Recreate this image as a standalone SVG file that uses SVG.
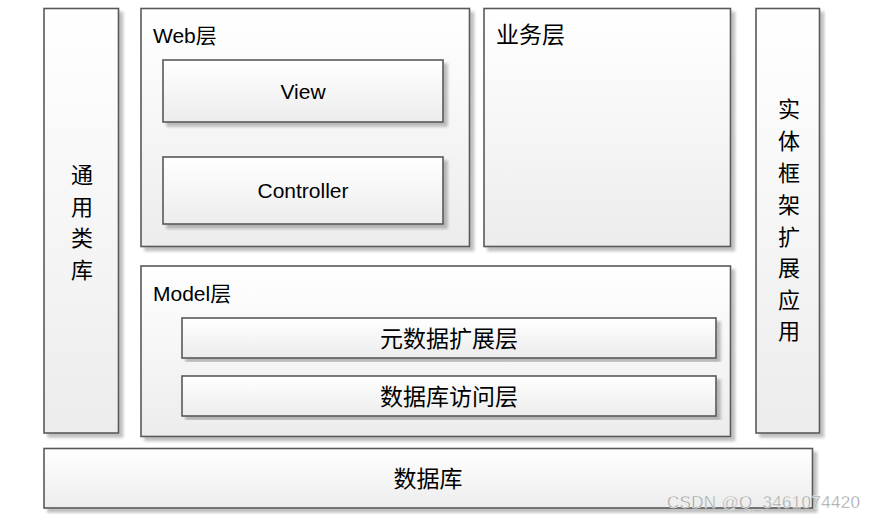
<svg xmlns="http://www.w3.org/2000/svg" width="877" height="521" viewBox="0 0 877 521">
<style>
.box{stroke:#595959;stroke-width:1.6;fill:url(#g)}
.t{font-family:"Liberation Sans","Noto Sans CJK SC",sans-serif;font-size:21px;fill:#000}
.c{font-family:"Noto Sans CJK SC",sans-serif;font-size:23px;fill:#000}
.v{font-size:22px}
.m{text-anchor:middle;dominant-baseline:central}
</style>
<defs>
<linearGradient id="g" x1="0" y1="0" x2="0" y2="1">
<stop offset="0" stop-color="#ffffff"/>
<stop offset="0.5" stop-color="#f6f6f6"/>
<stop offset="1" stop-color="#ececec"/>
</linearGradient>
<filter id="sh" x="-5%" y="-5%" width="115%" height="115%">
<feGaussianBlur in="SourceAlpha" stdDeviation="1.5"/>
<feOffset dx="4" dy="4" result="b"/>
<feComponentTransfer><feFuncA type="linear" slope="0.25"/></feComponentTransfer>
<feMerge><feMergeNode/><feMergeNode in="SourceGraphic"/></feMerge>
</filter>
</defs>
<rect width="877" height="521" fill="#ffffff"/>
<g id="common-lib">
<rect class="box" x="44" y="8.5" width="74.5" height="424.5" filter="url(#sh)"/>
<text class="c v m" x="82" y="173">通</text>
<text class="c v m" x="82" y="205">用</text>
<text class="c v m" x="82" y="236">类</text>
<text class="c v m" x="82" y="268">库</text>
</g>
<g id="web-layer">
<rect class="box" x="141" y="8.5" width="328.5" height="238" filter="url(#sh)"/>
<text class="t" x="153" y="43">Web层</text>
</g>
<g id="view">
<rect class="box" x="163" y="60" width="280" height="62" filter="url(#sh)"/>
<text class="t m" x="303" y="91">View</text>
</g>
<g id="controller">
<rect class="box" x="163" y="157" width="280" height="67" filter="url(#sh)"/>
<text class="t m" x="303" y="190">Controller</text>
</g>
<g id="business-layer">
<rect class="box" x="484" y="8.5" width="246.5" height="238" filter="url(#sh)"/>
<text class="c" x="496" y="43">业务层</text>
</g>
<g id="entity-framework">
<rect class="box" x="756" y="8.5" width="63.5" height="424.5" filter="url(#sh)"/>
<text class="c v m" x="789" y="107">实</text>
<text class="c v m" x="789" y="139">体</text>
<text class="c v m" x="789" y="171">框</text>
<text class="c v m" x="789" y="203">架</text>
<text class="c v m" x="789" y="235">扩</text>
<text class="c v m" x="789" y="266">展</text>
<text class="c v m" x="789" y="298">应</text>
<text class="c v m" x="789" y="329">用</text>
</g>
<g id="model-layer">
<rect class="box" x="141" y="266" width="589.5" height="170.5" filter="url(#sh)"/>
<text class="t" x="153" y="301">Model层</text>
</g>
<g id="metadata-ext">
<rect class="box" x="182" y="318" width="534" height="40" filter="url(#sh)"/>
<text class="c m" x="449" y="337">元数据扩展层</text>
</g>
<g id="db-access">
<rect class="box" x="182" y="376" width="534" height="40" filter="url(#sh)"/>
<text class="c m" x="449" y="395">数据库访问层</text>
</g>
<g id="database">
<rect class="box" x="44" y="448.5" width="768.5" height="59.5" filter="url(#sh)"/>
<text class="c m" x="428" y="477">数据库</text>
</g>
<g id="connectors"></g>
<text x="667" y="508" font-family="Liberation Sans, sans-serif" font-size="17" fill="#9a9a9a" stroke="#ffffff" stroke-width="0.4" textLength="193">CSDN @Q_3461074420</text>
</svg>
